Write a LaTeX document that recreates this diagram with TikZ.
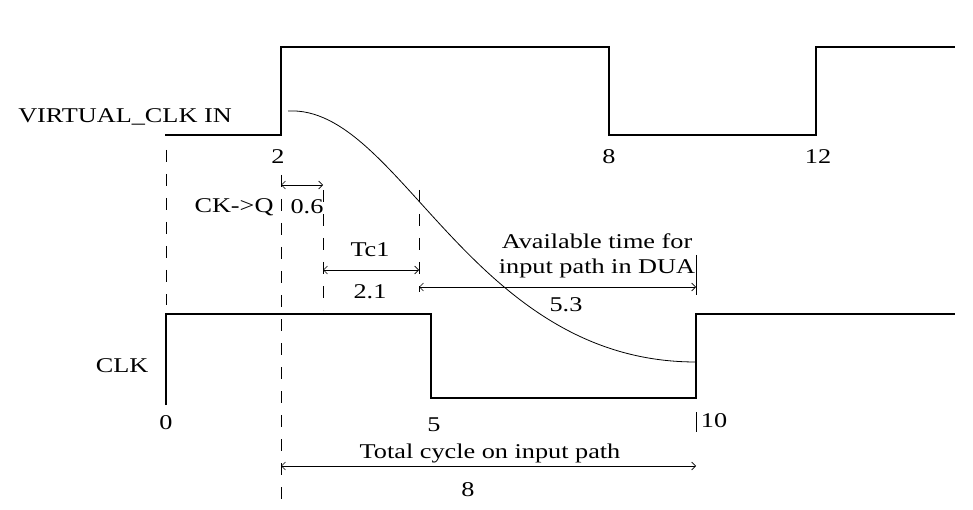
\documentclass[tikz,border=0pt]{standalone}
\usepackage{fontspec}
\setmainfont{Liberation Serif}[FakeStretch=1.25]
\usetikzlibrary{arrows.meta}
\begin{document}
\begin{tikzpicture}[x=1pt,y=-1pt,font=\fontsize{21}{25}\selectfont,
  wave/.style={line width=2.2pt},
  dim/.style={{Straight Barb[length=4pt]}-{Straight Barb[length=4pt]},line width=0.6pt},
  guide/.style={dashed,dash pattern=on 12pt off 12pt,line width=0.6pt},
  lbl/.style={inner sep=1pt}]
\useasboundingbox (0,0) rectangle (973,510);
\draw[wave] (165,135) -- (281,135) -- (281,47) -- (609,47) -- (609,135) -- (816,135) -- (816,47) -- (955,47);
\draw[wave] (166,405) -- (166,314) -- (431,314) -- (431,398) -- (696,398) -- (696,314) -- (955,314);
\node[lbl] (vin) at (125,117) {VIRTUAL\_CLK IN};
\node[lbl] at (278,157) {2};
\node[lbl] at (609,157) {8};
\node[lbl] at (818,157) {12};
\node[lbl] (clk) at (122,366) {CLK};
\node[lbl] at (166,423) {0};
\node[lbl] at (434,425) {5};
\node[lbl] at (714,421) {10};
\draw[line width=0.6pt] (696,412) -- (696,432);
\draw[guide] (166,150) -- (166,305);
\draw[guide] (281,175) -- (281,505);
\draw[guide] (323,190) -- (323,310);
\draw[guide] (419,190) -- (419,292);
\draw[line width=0.6pt] (696,255) -- (696,295);
\coordinate (a1) at (281,185); \coordinate (a2) at (323,185);
\draw[dim] (a1) -- (a2);
\node[lbl] at (234,207) {CK->Q};
\node[lbl] at (307,207) {0.6};
\coordinate (b1) at (323,270); \coordinate (b2) at (419,270);
\draw[dim] (b1) -- (b2);
\node[lbl] at (370,250) {Tc1};
\node[lbl] at (370,292) {2.1};
\coordinate (c1) at (419,287); \coordinate (c2) at (696,287);
\draw[dim] (c1) -- (c2);
\node[lbl,align=center] at (597,256) {Available time for\\input path in DUA};
\node[lbl] at (566,305) {5.3};
\coordinate (d1) at (281,466); \coordinate (d2) at (696,466);
\draw[dim] (d1) -- (d2);
\node[lbl] at (490,453) {Total cycle on input path};
\node[lbl] at (468,490) {8};
\coordinate (s) at (288,111); \coordinate (e) at (696,362);
\draw[line width=0.8pt] (s) .. controls (400,105) and (470,362) .. (e);
\end{tikzpicture}
\end{document}
